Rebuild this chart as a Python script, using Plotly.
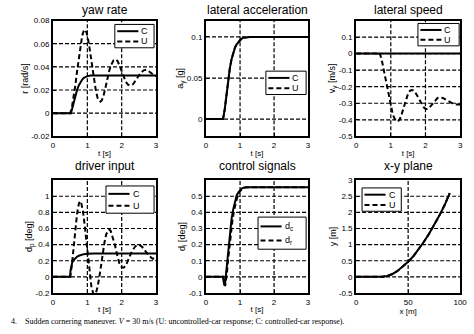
import plotly.graph_objects as go

# ---------------- data ----------------
# yaw rate [rad/s]
yaw_t_U = [0, 0.5, 0.55, 0.6, 0.65, 0.7, 0.75, 0.8, 0.85, 0.9, 0.93, 0.97, 1.0, 1.05, 1.1, 1.15, 1.2, 1.25, 1.3,
           1.35, 1.38, 1.42, 1.47, 1.52, 1.58, 1.64, 1.7, 1.76, 1.82, 1.88, 1.94, 2.0, 2.06, 2.12, 2.19, 2.26, 2.33,
           2.4, 2.48, 2.56, 2.64, 2.72, 2.8, 2.88, 2.95, 3.0]
yaw_U = [0, 0, 0.005, 0.013, 0.024, 0.036, 0.048, 0.059, 0.067, 0.0715, 0.0722, 0.070, 0.067, 0.059, 0.049, 0.038,
         0.028, 0.019, 0.013, 0.0105, 0.010, 0.011, 0.015, 0.021, 0.029, 0.037, 0.042, 0.0455, 0.0465, 0.045, 0.041,
         0.036, 0.031, 0.027, 0.0245, 0.024, 0.025, 0.028, 0.032, 0.035, 0.037, 0.0375, 0.036, 0.034, 0.0325, 0.032]
yaw_t_C = [0, 0.52, 0.55, 0.6, 0.65, 0.7, 0.75, 0.8, 0.85, 0.9, 0.95, 1.0, 1.1, 1.2, 3.0]
yaw_C = [0, 0, 0.003, 0.009, 0.015, 0.020, 0.024, 0.027, 0.029, 0.0305, 0.0315, 0.032, 0.0325, 0.0325, 0.0325]

# lateral acceleration [g]
acc_t = [0, 0.5, 0.55, 0.6, 0.65, 0.7, 0.75, 0.8, 0.85, 0.9, 0.95, 1.0, 1.05, 1.1, 1.2, 1.3, 3.0]
acc_C = [0, 0, 0.012, 0.03, 0.048, 0.062, 0.073, 0.081, 0.087, 0.091, 0.094, 0.096, 0.098, 0.099, 0.0995, 0.1, 0.1]
acc_U = [0, 0, 0.012, 0.03, 0.048, 0.062, 0.073, 0.081, 0.087, 0.091, 0.094, 0.096, 0.098, 0.099, 0.0995, 0.1, 0.1]

# lateral speed [m/s]
spd_t_C = [0, 3.0]
spd_C = [0, 0]
spd_t_U = [0, 0.6, 0.65, 0.7, 0.75, 0.8, 0.85, 0.9, 0.95, 1.0, 1.05, 1.1, 1.15, 1.2, 1.25, 1.3, 1.35, 1.4, 1.45,
           1.5, 1.55, 1.6, 1.65, 1.7, 1.75, 1.8, 1.85, 1.9, 1.95, 2.0, 2.05, 2.1, 2.15, 2.2, 2.25, 2.3, 2.35, 2.4,
           2.45, 2.5, 2.6, 2.7, 2.8, 2.9, 3.0]
spd_U = [0, 0, 0.008, -0.01, -0.05, -0.1, -0.16, -0.22, -0.27, -0.32, -0.36, -0.39, -0.405, -0.41, -0.40, -0.375,
         -0.34, -0.3, -0.265, -0.24, -0.225, -0.22, -0.222, -0.232, -0.25, -0.27, -0.29, -0.31, -0.325, -0.333,
         -0.335, -0.33, -0.318, -0.303, -0.288, -0.276, -0.268, -0.265, -0.265, -0.268, -0.28, -0.293, -0.303,
         -0.308, -0.308]

# driver input [deg]
drv_t_U = [0, 0.5, 0.55, 0.6, 0.65, 0.7, 0.75, 0.78, 0.82, 0.87, 0.92, 0.97, 1.02, 1.07, 1.12, 1.17, 1.2, 1.25,
           1.3, 1.35, 1.4, 1.45, 1.5, 1.55, 1.6, 1.63, 1.68, 1.73, 1.8, 1.87, 1.93, 2.0, 2.06, 2.12, 2.2, 2.3, 2.4,
           2.5, 2.6, 2.7, 2.8, 2.9, 3.0]
drv_U = [0, 0, 0.15, 0.38, 0.6, 0.78, 0.9, 0.94, 0.92, 0.82, 0.65, 0.45, 0.22, 0.02, -0.13, -0.2, -0.22, -0.2,
         -0.12, 0.0, 0.15, 0.3, 0.43, 0.53, 0.58, 0.59, 0.57, 0.51, 0.4, 0.27, 0.17, 0.12, 0.115, 0.14, 0.22, 0.32,
         0.38, 0.4, 0.37, 0.32, 0.26, 0.225, 0.23]
drv_t_C = [0, 0.5, 0.51, 0.53, 0.56, 0.6, 0.65, 0.7, 0.75, 0.8, 0.9, 1.0, 1.1, 1.2, 3.0]
drv_C = [0, 0, 0.08, 0.14, 0.18, 0.21, 0.235, 0.25, 0.262, 0.272, 0.282, 0.287, 0.29, 0.29, 0.29]

# control signals [deg]
ctl_t_c = [0, 0.5, 0.52, 0.54, 0.56, 0.58, 0.6, 0.63, 0.66, 0.7, 0.75, 0.8, 0.85, 0.9, 0.95, 1.0, 1.05, 1.1, 1.2, 3.0]
ctl_c = [0, 0, -0.03, -0.05, -0.04, 0.0, 0.06, 0.13, 0.2, 0.28, 0.36, 0.42, 0.47, 0.505, 0.525, 0.54, 0.548,
         0.553, 0.556, 0.556]
ctl_t_r = [0, 0.51, 0.53, 0.55, 0.57, 0.59, 0.62, 0.65, 0.68, 0.72, 0.77, 0.82, 0.87, 0.92, 0.97, 1.02, 1.08,
           1.15, 1.25, 3.0]
ctl_r = [0, 0, -0.03, -0.055, -0.05, -0.02, 0.04, 0.11, 0.18, 0.26, 0.34, 0.41, 0.46, 0.495, 0.52, 0.537, 0.548,
         0.554, 0.556, 0.556]

# x-y plane [m]
xy_x = [0, 10, 20, 25, 30, 35, 40, 45, 50, 55, 60, 65, 70, 75, 80, 85, 90]
xy_C = [0, 0, 0, 0.005, 0.03, 0.09, 0.19, 0.32, 0.47, 0.64, 0.85, 1.08, 1.33, 1.6, 1.9, 2.22, 2.6]
xy_U = [0, 0, 0, 0.005, 0.03, 0.09, 0.19, 0.32, 0.47, 0.64, 0.85, 1.08, 1.33, 1.6, 1.9, 2.22, 2.6]

# tick values / labels
t_ticks = [0, 1, 2, 3]
t_labels = ["0", "1", "2", "3"]
yaw_ticks = [-0.02, 0, 0.02, 0.04, 0.06, 0.08]
yaw_labels = ["-0.02", "0", "0.02", "0.04", "0.06", "0.08"]
acc_ticks = [0, 0.05, 0.1]
acc_labels = ["0", "0.05", "0.1"]
spd_ticks = [-0.5, -0.4, -0.3, -0.2, -0.1, 0, 0.1]
spd_labels = ["-0.5", "-0.4", "-0.3", "-0.2", "-0.1", "0", "0.1"]
drv_ticks = [-0.2, 0, 0.2, 0.4, 0.6, 0.8, 1.0]
drv_labels = ["-0.2", "0", "0.2", "0.4", "0.6", "0.8", "1"]
ctl_ticks = [-0.1, 0, 0.1, 0.2, 0.3, 0.4, 0.5]
ctl_labels = ["-0.1", "0", "0.1", "0.2", "0.3", "0.4", "0.5"]
xy_xticks = [0, 50, 100]
xy_xlabels = ["0", "50", "100"]
xy_yticks = [-0.5, 0, 0.5, 1, 1.5, 2, 2.5, 3]
xy_ylabels = ["-0.5", "0", "0.5", "1", "1.5", "2", "2.5", "3"]

titles = ["yaw rate", "lateral acceleration", "lateral speed", "driver input", "control signals", "x-y plane"]
legend_names = [["C", "U"], ["C", "U"], ["C", "U"], ["C", "U"], ["d<sub>c</sub>", "d<sub>r</sub>"], ["C", "U"]]

# ---------------- layout helpers ----------------
W, H = 474, 334
FONT = "Liberation Sans, Arial, sans-serif"
cols = [(52, 157), (208, 312), (361, 467)]
rows = [(17, 136), (181, 297)]
# legend boxes in pixels: left, top, right, bottom
leg_boxes = [(115, 21, 155, 45), (269, 69, 310, 93), (424, 20, 466, 43),
             (106, 187, 155, 215), (261, 219, 310, 252), (367, 189, 407, 213)]

specs = [
    (t_ticks, t_labels, [0, 3], "t [s]", yaw_ticks, yaw_labels, [-0.02, 0.08], "r [rad/s]"),
    (t_ticks, t_labels, [0, 3], "t [s]", acc_ticks, acc_labels, [-0.021, 0.12], "a<sub>y</sub> [g]"),
    (t_ticks, t_labels, [0, 3], "t [s]", spd_ticks, spd_labels, [-0.5, 0.2], "v<sub>y</sub> [m/s]"),
    (t_ticks, t_labels, [0, 3], "t [s]", drv_ticks, drv_labels, [-0.2, 1.2], "d<sub>p</sub> [deg]"),
    (t_ticks, t_labels, [0, 3], "t [s]", ctl_ticks, ctl_labels, [-0.1, 0.6], "d<sub>i</sub> [deg]"),
    (xy_xticks, xy_xlabels, [0, 100], "x [m]", xy_yticks, xy_ylabels, [-0.5, 3], "y [m]"),
]


def px_x(p):
    return p / W


def px_y(p):
    return (H - p) / H


def axn(idx, letter):
    return letter if idx == 1 else f"{letter}{idx}"


fig = go.Figure()

SOLID = dict(color="black", width=2)
DASHED = dict(color="black", width=2, dash="5px,3px")
GRID = dict(color="black", width=1.2, dash="4px,2px")

# dashed grid at the tick positions, drawn first so the curves sit on top
for i, (xt, xl, xr, xtitle, yt, yl, yr, ytitle) in enumerate(specs):
    idx = i + 1
    for v in xt:
        if xr[0] < v < xr[1]:
            fig.add_trace(go.Scatter(x=[v, v], y=yr, mode="lines", line=GRID, showlegend=False,
                                     hoverinfo="skip", xaxis=axn(idx, "x"), yaxis=axn(idx, "y")))
    for v in yt:
        if yr[0] < v < yr[1]:
            fig.add_trace(go.Scatter(x=xr, y=[v, v], mode="lines", line=GRID, showlegend=False,
                                     hoverinfo="skip", xaxis=axn(idx, "x"), yaxis=axn(idx, "y")))


def add(x, y, name, idx, line):
    fig.add_trace(go.Scatter(x=x, y=y, mode="lines", name=name, line=line, showlegend=False,
                             xaxis=axn(idx, "x"), yaxis=axn(idx, "y")))


add(yaw_t_C, yaw_C, "C", 1, SOLID)
add(yaw_t_U, yaw_U, "U", 1, DASHED)
add(acc_t, acc_U, "U", 2, DASHED)
add(acc_t, acc_C, "C", 2, SOLID)
add(spd_t_C, spd_C, "C", 3, SOLID)
add(spd_t_U, spd_U, "U", 3, DASHED)
add(drv_t_C, drv_C, "C", 4, SOLID)
add(drv_t_U, drv_U, "U", 4, DASHED)
add(ctl_t_c, ctl_c, "d_c", 5, SOLID)
add(ctl_t_r, ctl_r, "d_r", 5, DASHED)
add(xy_x, xy_U, "U", 6, DASHED)
add(xy_x, xy_C, "C", 6, SOLID)

axis_common = dict(showline=True, linewidth=2, linecolor="black", mirror=True,
                   showgrid=False, ticks="inside", ticklen=3, tickcolor="black", zeroline=False,
                   layer="above traces", tickfont=dict(family=FONT, size=8, color="black"), tickmode="array")

annotations = []
shapes = []
for i, (xt, xl, xr, xtitle, yt, yl, yr, ytitle) in enumerate(specs):
    r, c = divmod(i, 3)
    x0, x1 = cols[c]
    y0, y1 = rows[r]
    n = "" if i == 0 else str(i + 1)
    fig.layout[f"xaxis{n}"] = dict(axis_common, domain=[px_x(x0), px_x(x1)], range=xr, tickvals=xt, ticktext=xl,
                                   anchor=f"y{n}",
                                   title=dict(text=xtitle, font=dict(family=FONT, size=8, color="black"),
                                              standoff=1))
    fig.layout[f"yaxis{n}"] = dict(axis_common, domain=[px_y(y1), px_y(y0)], range=yr, tickvals=yt, ticktext=yl,
                                   anchor=f"x{n}",
                                   title=dict(text=ytitle, font=dict(family=FONT, size=9, color="black"),
                                              standoff=1))

    annotations.append(dict(text=titles[i], x=px_x((x0 + x1) / 2), y=px_y(6 if r == 0 else 166),
                            xref="paper", yref="paper", showarrow=False, xanchor="center", yanchor="middle",
                            font=dict(family=FONT, size=12, color="black")))

    # legend key box
    lx0, ly0, lx1, ly1 = leg_boxes[i]
    hgt = ly1 - ly0
    shapes.append(dict(type="rect", xref="paper", yref="paper", x0=px_x(lx0), x1=px_x(lx1),
                       y0=px_y(ly1), y1=px_y(ly0), fillcolor="white",
                       line=dict(color="black", width=1), layer="above"))
    for k, (nm, st) in enumerate(zip(legend_names[i], [SOLID, DASHED])):
        yy = ly0 + hgt * (0.29 if k == 0 else 0.73)
        shapes.append(dict(type="line", xref="paper", yref="paper", x0=px_x(lx0 + 2.5), x1=px_x(lx0 + 24),
                           y0=px_y(yy), y1=px_y(yy), line=st, layer="above"))
        annotations.append(dict(text=nm, x=px_x(lx0 + 25), y=px_y(yy), xref="paper", yref="paper",
                                showarrow=False, xanchor="left", yanchor="middle",
                                font=dict(family=FONT, size=9, color="black")))

annotations.append(dict(
    text="4.&nbsp;&nbsp;&nbsp; Sudden cornering maneuver. <i>V</i> = 30 m/s (U: uncontrolled-car response; "
         "C: controlled-car response).",
    x=px_x(7), y=px_y(326), xref="paper", yref="paper", showarrow=False, xanchor="left", yanchor="middle",
    font=dict(family="Liberation Serif, Times New Roman, serif", size=8, color="black")))

fig.update_layout(width=W, height=H, margin=dict(l=0, r=0, t=0, b=0), paper_bgcolor="white",
                  plot_bgcolor="rgba(0,0,0,0)", showlegend=False, annotations=annotations, shapes=shapes)

fig.write_html("out.html")
